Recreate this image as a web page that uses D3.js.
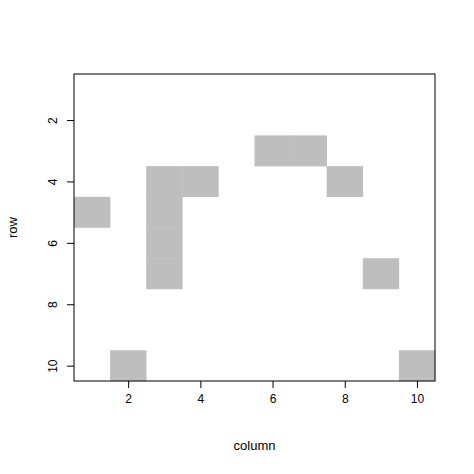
<!DOCTYPE html>
<html><head><meta charset="utf-8">
<script src="https://cdn.jsdelivr.net/npm/d3@7"></script>
<style>body{margin:0;background:#fff}text{font-family:"Liberation Sans",Arial,sans-serif}</style>
</head><body><svg id="c" width="474" height="474"></svg>
<script>
const rows = [3,3,4,4,4,5,5,6,7,7,10,10];
const cols = [6,7,3,4,8,1,3,3,3,9,2,10];
const xTicks = [2,4,6,8,10];
const yTicks = [2,4,6,8,10];
const svg = d3.select("#c");
const x = d3.scaleLinear().domain([0.5,10.5]).range([74,435]);
const y = d3.scaleLinear().domain([0.5,10.5]).range([74,381]);
const cells = rows.map((r,i)=>({r, c: cols[i]}));
svg.selectAll("rect.cell").data(cells).enter().append("rect")
  .attr("x", d=>x(d.c-0.5)).attr("y", d=>y(d.r-0.5))
  .attr("width", d=>x(d.c+0.5)-x(d.c-0.5)+0.3).attr("height", d=>y(d.r+0.5)-y(d.r-0.5)+0.3)
  .attr("fill", "#bebebe");
svg.append("rect").attr("x",74).attr("y",74).attr("width",361).attr("height",307)
  .attr("fill","none").attr("stroke","#000");
const xa = svg.append("g").attr("transform","translate(0,381)")
  .call(d3.axisBottom(x).tickValues(xTicks).tickSize(7).tickPadding(6));
xa.select(".domain").remove();
xa.selectAll("text").attr("font-size",12).attr("font-family","Liberation Sans, Arial");
const ya = svg.append("g").attr("transform","translate(74,0)")
  .call(d3.axisLeft(y).tickValues(yTicks).tickSize(7));
ya.select(".domain").remove();
ya.selectAll("text").attr("font-size",12).attr("font-family","Liberation Sans, Arial")
  .attr("text-anchor","middle").attr("transform",d=>`translate(-20,${y(d)}) rotate(-90) translate(0,${-y(d)})`)
  .attr("x",0).attr("dy","0.35em").attr("y", d=>y(d));
ya.selectAll(".tick text").each(function(d){
  d3.select(this).attr("y",0).attr("transform",`translate(-21,0) rotate(-90)`).attr("dy","0.35em");
});
svg.append("text").attr("x",(74+435)/2).attr("y",450).attr("text-anchor","middle").attr("font-size",13).text("column");
svg.append("text").attr("transform",`translate(17,${(74+381)/2}) rotate(-90)`).attr("text-anchor","middle").attr("font-size",13).text("row");
</script></body></html>
